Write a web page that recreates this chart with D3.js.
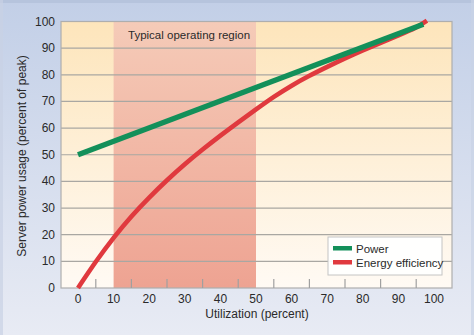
<!DOCTYPE html>
<html><head><meta charset="utf-8">
<script src="https://cdn.jsdelivr.net/npm/d3@7/dist/d3.min.js"></script>
<style>html,body{margin:0;padding:0;background:#fff;}svg{display:block;font-family:"Liberation Sans",Arial,sans-serif;}</style>
</head><body>
<script>
// ---- data ----
const utilization = [0,5,10,15,20,25,30,35,40,45,50,55,60,65,70,75,80,85,90,95,98];
const efficiency  = [0,10,19,27,34,40.5,46.5,52,57.2,62.2,67,71.8,76,79.7,83,86.2,89.2,92,94.8,97.6,100.3];
const powerX = [0, 97];
const powerY = [50, 99];
const yTicks = [0,10,20,30,40,50,60,70,80,90,100];
const xTicks = [0,10,20,30,40,50,60,70,80,90,100];
const xMinorTicks = [5,15,25,35,45,55,65,75,85,95];
const regionStart = 10, regionEnd = 50;
const regionLabel = "Typical operating region";
const seriesNames = ["Power","Energy efficiency"];

const W=474,H=335;
const svg=d3.select("body").append("svg").attr("width",W).attr("height",H);
const defs=svg.append("defs");
function vgrad(id,c1,c2){const g=defs.append("linearGradient").attr("id",id).attr("x1",0).attr("y1",0).attr("x2",0).attr("y2",1);
 g.append("stop").attr("offset","0%").attr("stop-color",c1);g.append("stop").attr("offset","100%").attr("stop-color",c2);}
vgrad("bg","#c2cfe7","#e8ebf4");
vgrad("yel","#fde5bb","#fffaf4");
vgrad("pink","#f5cbb8","#eea392");

svg.append("rect").attr("width",W).attr("height",H).attr("fill","url(#bg)");
svg.append("rect").attr("width",W).attr("height",3).attr("fill","#b6c4dd");
svg.append("rect").attr("x",0).attr("width",3).attr("height",H).attr("fill","#c9d2e4").attr("opacity",0.7);
svg.append("rect").attr("x",471).attr("width",3).attr("height",H).attr("fill","#c9d3e6").attr("opacity",0.7);

const x=d3.scaleLinear().domain([0,100]).range([78,434]);
const y=d3.scaleLinear().domain([0,100]).range([288,21.5]);
const L=61,R=452,T=21.5,B=288;

// backgrounds
svg.append("rect").attr("x",L).attr("y",T).attr("width",R-L).attr("height",B-T).attr("fill","url(#yel)");
svg.append("rect").attr("x",x(regionStart)).attr("y",T).attr("width",x(regionEnd)-x(regionStart)).attr("height",B-T).attr("fill","url(#pink)");

// grid
svg.append("g").selectAll("line").data(yTicks.filter(d=>d>0)).join("line")
 .attr("x1",L).attr("x2",R).attr("y1",d=>y(d)).attr("y2",d=>y(d))
 .attr("stroke","#a9a7a2").attr("stroke-width",1.2);
// frame
svg.append("rect").attr("x",L).attr("y",T).attr("width",R-L).attr("height",B-T).attr("fill","none").attr("stroke","#aeaeae").attr("stroke-width",1.2);

// x minor ticks
svg.append("g").selectAll("line").data(xMinorTicks).join("line")
 .attr("x1",d=>x(d)).attr("x2",d=>x(d)).attr("y1",B).attr("y2",B-9)
 .attr("stroke","#a0a0a0").attr("stroke-width",1.2);

// tick labels
svg.append("g").selectAll("text").data(yTicks).join("text")
 .attr("x",55).attr("y",d=>y(d)+4).attr("text-anchor","end").attr("font-size",12).attr("fill","#2a2a2a").text(d=>d);
svg.append("g").selectAll("text").data(xTicks).join("text")
 .attr("x",d=>x(d)).attr("y",303).attr("text-anchor","middle").attr("font-size",12).attr("fill","#2a2a2a").text(d=>d);

svg.append("text").attr("x",257).attr("y",318).attr("text-anchor","middle").attr("font-size",12).attr("fill","#2a2a2a").text("Utilization (percent)");
svg.append("text").attr("transform","translate(26,156) rotate(-90)").attr("text-anchor","middle").attr("font-size",12).attr("fill","#2a2a2a").text("Server power usage (percent of peak)");

svg.append("text").attr("x",128).attr("y",39).attr("font-size",11.5).attr("fill","#2a2a2a").text(regionLabel);

// lines
const line=d3.line().x(d=>x(d[0])).y(d=>y(d[1])).curve(d3.curveBasis);
svg.append("path").datum(utilization.map((u,i)=>[u,efficiency[i]])).attr("d",line)
 .attr("fill","none").attr("stroke","#e0393e").attr("stroke-width",4.6);
svg.append("path").datum(powerX.map((u,i)=>[u,powerY[i]])).attr("d",d3.line().x(d=>x(d[0])).y(d=>y(d[1])))
 .attr("fill","none").attr("stroke","#13905a").attr("stroke-width",5.4);

// legend
const lg=svg.append("g");
lg.append("rect").attr("x",328).attr("y",237).attr("width",114).attr("height",38).attr("fill","#fff").attr("fill-opacity",0.92).attr("stroke","#c4c4c4");
const colors=["#13905a","#e0393e"];
seriesNames.forEach((n,i)=>{
 lg.append("rect").attr("x",333).attr("y",246+i*14).attr("width",19).attr("height",4.5).attr("fill",colors[i]);
 lg.append("text").attr("x",356).attr("y",252.5+i*14).attr("font-size",11.5).attr("fill","#2a2a2a").text(n);
});
</script>
</body></html>
